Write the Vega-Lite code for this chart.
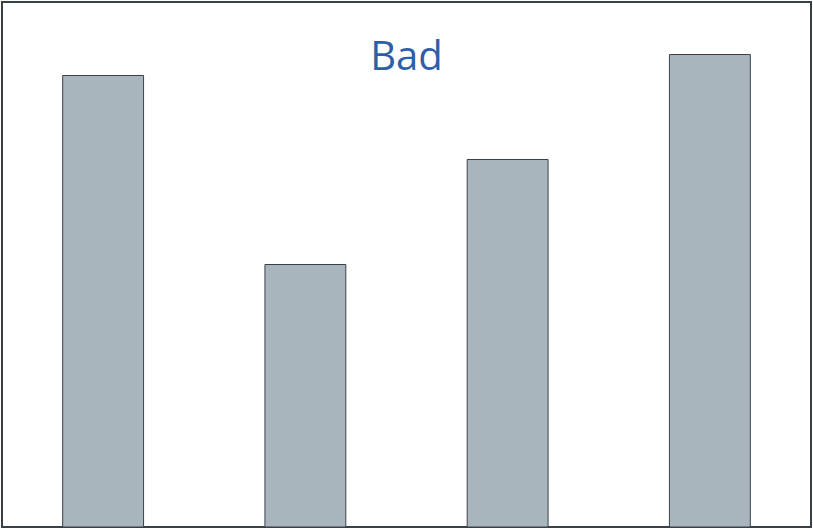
{
  "$schema": "https://vega.github.io/schema/vega-lite/v6.json",
  "autosize": {"type": "fit", "contains": "padding"},
  "width": 813,
  "height": 530,
  "padding": {"left": 2, "top": 2, "right": 2, "bottom": 2},
  "background": "white",
  "title": {
    "text": "Bad",
    "font": "Open Sans",
    "fontSize": 40,
    "fontWeight": "normal",
    "color": "#2e5ea8",
    "anchor": "middle",
    "frame": "group",
    "baseline": "top",
    "offset": -33,
    "dy": 43
  },
  "config": {
    "view": {"stroke": "#3a4048", "strokeWidth": 2}
  },
  "data": {
    "values": [
      {"item": "A", "value": 86},
      {"item": "B", "value": 50},
      {"item": "C", "value": 70},
      {"item": "D", "value": 90}
    ]
  },
  "mark": {"type": "bar", "color": "#a9b5bd", "stroke": "#3a4048", "strokeWidth": 1},
  "encoding": {
    "x": {
      "field": "item",
      "type": "nominal",
      "scale": {"paddingInner": 0.6, "paddingOuter": 0.3},
      "axis": null
    },
    "y": {
      "field": "value",
      "type": "quantitative",
      "scale": {"domain": [0, 100], "nice": false},
      "axis": null
    }
  }
}
